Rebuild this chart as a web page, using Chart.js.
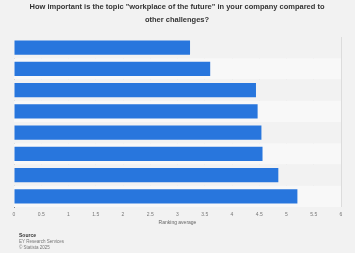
<!DOCTYPE html>
<html>
<head>
<meta charset="utf-8">
<script src="https://cdn.jsdelivr.net/npm/chart.js@4"></script>
<style>
  html, body { margin: 0; padding: 0; background: #f2f2f2; }
  #wrap { width: 355px; height: 253px; }
</style>
</head>
<body>
<div id="wrap"><canvas id="bars" width="355" height="253"></canvas></div>
<script>
// categories are not printed in the source picture
var categories = ['', '', '', '', '', '', '', ''];
var rankingAverage = [3.23, 3.6, 4.44, 4.47, 4.54, 4.56, 4.85, 5.2];
var xTicks = [0, 0.5, 1, 1.5, 2, 2.5, 3, 3.5, 4, 4.5, 5, 5.5, 6];

var titleLines = ['How important is the topic "workplace of the future" in your company compared to', 'other challenges?'];
var sourceLines = ['Source', 'EY Research Services', '© Statista 2025'];

// alternating row backgrounds behind the bars
var stripes = {
    id: 'stripes',
    beforeDatasetsDraw: function(chart) {
        var c = chart.ctx, a = chart.chartArea, y = chart.scales.y;
        c.save();
        for (var i = 0; i < categories.length; i++) {
            var mid = y.getPixelForValue(i);
            var h = (a.bottom - a.top) / categories.length;
            c.fillStyle = i % 2 ? '#f8f8f8' : '#f2f2f2';
            c.fillRect(a.left, mid - h / 2, a.right - a.left, h);
        }
        c.restore();
    }
};

var texts = {
    id: 'texts',
    afterDraw: function(chart) {
        var c = chart.ctx;
        c.save();
        c.fillStyle = '#333';
        c.font = 'bold 7.5px "Liberation Sans", Arial, sans-serif';
        c.textAlign = 'center';
        c.textBaseline = 'middle';
        c.fillText(titleLines[0], 177, 7);
        c.fillText(titleLines[1], 177, 20);
        c.fillStyle = '#666';
        c.font = '5px "Liberation Sans", Arial, sans-serif';
        c.fillText('Ranking average', (chart.chartArea.left + chart.chartArea.right) / 2, 223);
        c.textAlign = 'left';
        c.fillStyle = '#333';
        c.font = 'bold 5px "Liberation Sans", Arial, sans-serif';
        c.fillText(sourceLines[0], 19, 236);
        c.fillStyle = '#777';
        c.font = '4.5px "Liberation Sans", Arial, sans-serif';
        c.fillText(sourceLines[1], 19, 242);
        c.fillText(sourceLines[2], 19, 248);
        c.restore();
    }
};

new Chart(document.getElementById('bars').getContext('2d'), {
    type: 'bar',
    data: {
        labels: categories,
        datasets: [{
            data: rankingAverage,
            backgroundColor: '#2876dd',
            borderWidth: 0,
            categoryPercentage: 0.66,
            barPercentage: 1
        }]
    },
    options: {
        indexAxis: 'y',
        responsive: false,
        animation: false,
        layout: { padding: { top: 37, left: 14, right: 14, bottom: 30 } },
        plugins: { legend: { display: false }, tooltip: { enabled: false } },
        scales: {
            x: {
                min: 0, max: 6,
                afterBuildTicks: function(s) { s.ticks = xTicks.map(function(v) { return { value: v }; }); },
                grid: { color: '#dcdcdc', drawTicks: false },
                border: { display: false },
                ticks: { font: { size: 5 }, color: '#777', padding: 5, callback: function(v) { return String(v); } }
            },
            y: {
                afterFit: function(s) { s.width = 0; },
                grid: { display: false },
                border: { display: true, color: '#888', width: 1 },
                ticks: { display: false }
            }
        }
    },
    plugins: [stripes, texts]
});
</script>
</body>
</html>
